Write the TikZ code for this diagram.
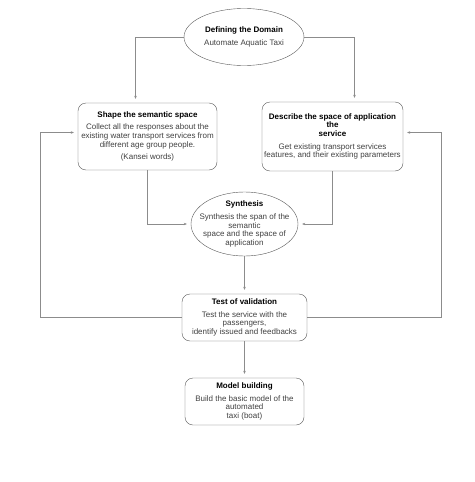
\documentclass[tikz,border=0pt]{standalone}
\usepackage{fontspec}
\setmainfont{Liberation Sans}
\usetikzlibrary{shapes.geometric,arrows.meta}

\begin{document}
\begin{tikzpicture}[x=1pt,y=-1pt,
  font=\fontsize{8}{8.6}\selectfont,
  box/.style={draw=black!65,rounded corners=8pt,align=center,inner xsep=-3pt,inner ysep=1pt,text=black!75},
  oval/.style={draw=black!65,ellipse,align=center,inner sep=-12pt,text=black!75},
  link/.style={draw=black!45,-{Stealth[length=3pt,width=2.5pt]},shorten >=4pt}]
\useasboundingbox (0,0) rectangle (474,482);

% stages
\node[oval,minimum width=120pt,minimum height=57pt] (dom) at (244,37)
  {\textcolor{black}{\textbf{Defining the Domain}}\\[4pt]Automate Aquatic Taxi};
\node[box,minimum width=139pt,minimum height=67pt] (shape) at (147.5,136.5)
  {\textcolor{black}{\textbf{Shape the semantic space}}\\[4pt]Collect all the responses about the\\existing water transport services from\\different age group people.\\[4pt](Kansei words)};
\node[box,minimum width=141pt,minimum height=69pt] (desc) at (332.5,136.5)
  {\textcolor{black}{\textbf{Describe the space of application}}\\\textcolor{black}{\textbf{the}}\\\textcolor{black}{\textbf{service}}\\[4pt]Get existing transport services\\features, and their existing parameters};
\node[oval,minimum width=107pt,minimum height=64pt] (syn) at (244.5,224)
  {\textcolor{black}{\textbf{Synthesis}}\\[4pt]Synthesis the span of the\\semantic\\space and the space of\\application};
\node[box,minimum width=125pt,minimum height=47pt] (test) at (244.5,317.5)
  {\textcolor{black}{\textbf{Test of validation}}\\[4pt]Test the service with the\\passengers,\\identify issued and feedbacks};
\node[box,minimum width=119pt,minimum height=47pt] (model) at (244.5,401.5)
  {\textcolor{black}{\textbf{Model building}}\\[4pt]Build the basic model of the\\automated\\taxi (boat)};

% feedback corners
\coordinate (loopL) at (40,317.5);
\coordinate (loopR) at (441,317.5);

% links
\draw[link] (dom.west) -| ([xshift=-12pt]shape.north);
\draw[link] (dom.east) -| ([xshift=22pt]desc.north);
\draw[link] (shape.south) |- (syn.west);
\draw[link] (desc.south) |- (syn.east);
\draw[link] (syn.south) -- (test.north);
\draw[link] (test.south) -- (model.north);
\draw[link] (test.west) -- (loopL) |- ([yshift=4pt]shape.west);
\draw[link] (test.east) -- (loopR) |- ([yshift=4pt]desc.east);
\end{tikzpicture}
\end{document}
